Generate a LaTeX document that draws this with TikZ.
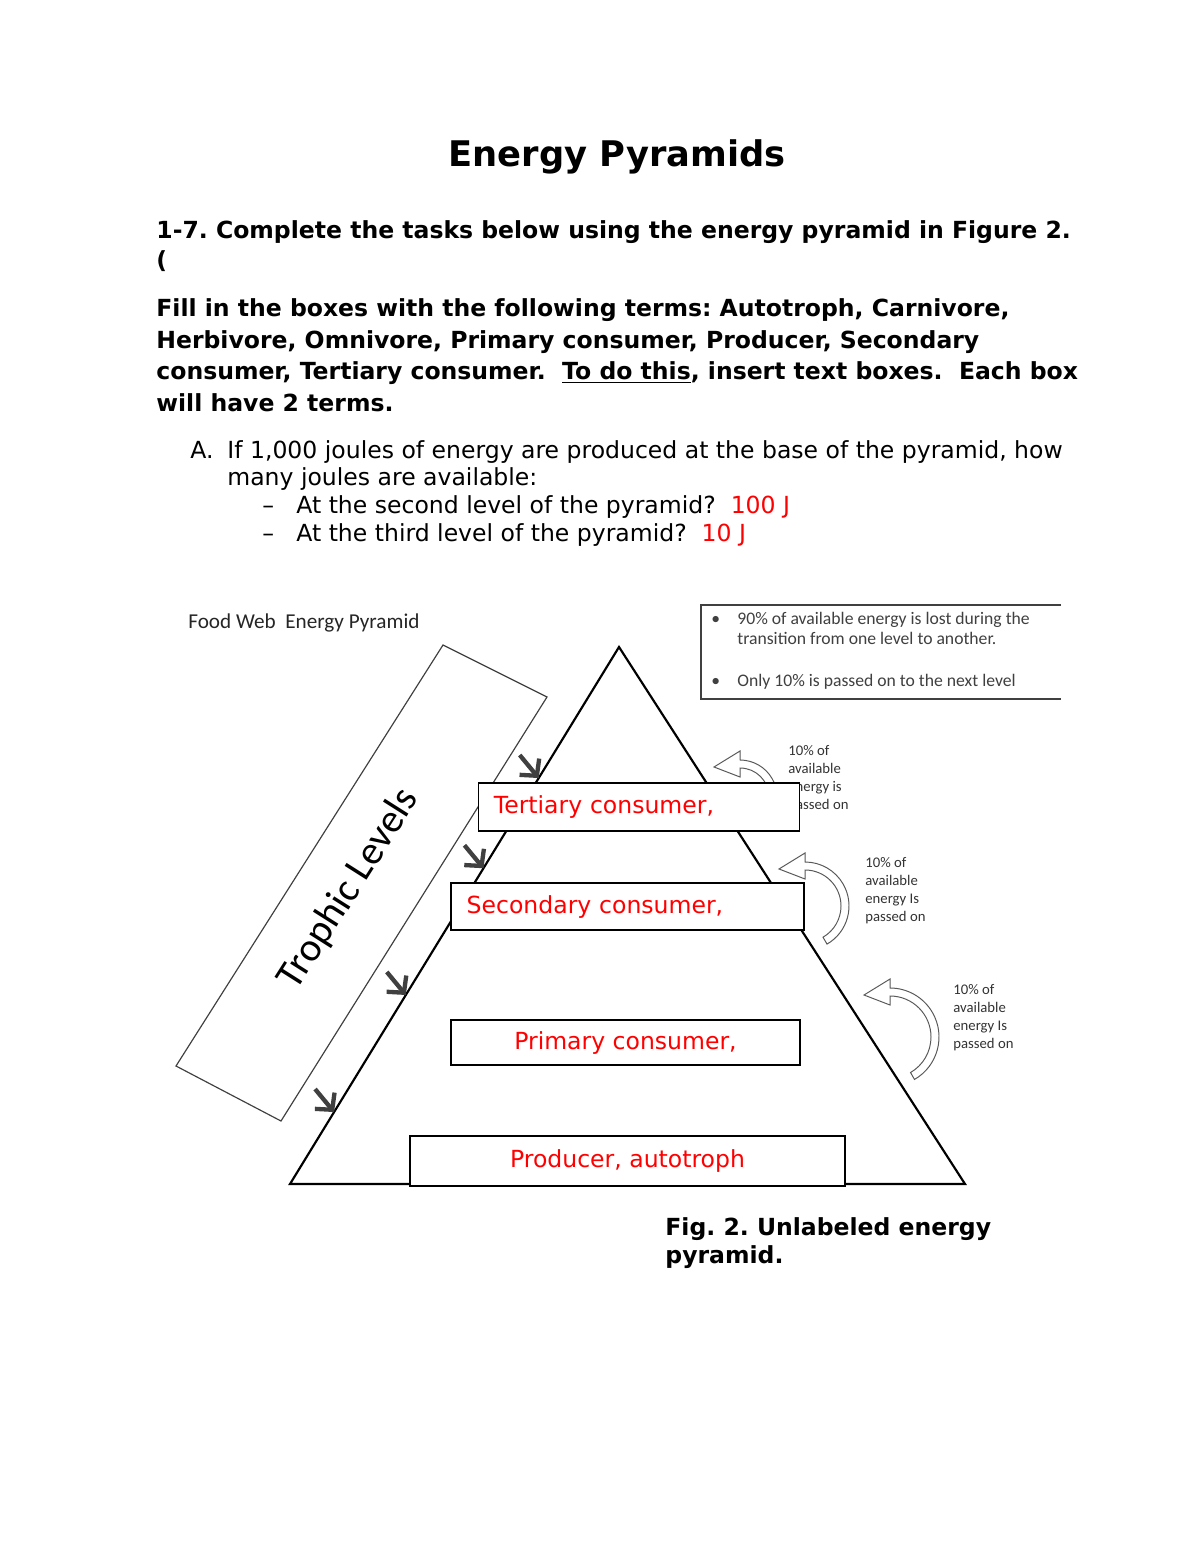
\documentclass[tikz,border=0pt]{standalone}
\usepackage{fontspec}
\setmainfont{DejaVu Sans}
\newfontfamily\calfont{Carlito}
\usetikzlibrary{arrows.meta, calc}
\frenchspacing

% hollow curved arrow: centre x, centre y, radius
\newcommand{\passarrow}[3]{%
  \begin{scope}[shift={(#1,#2)}]
    \draw[passarr] (60:{#3+4}) arc[start angle=60, end angle=-90, radius={#3+4}]
      -- ++(0,-9) -- (-26,{-#3+3}) -- (0,{-#3+13}) -- (0,{-#3+4})
      arc[start angle=-90, end angle=60, radius={#3-4}] -- cycle;
  \end{scope}}

\begin{document}
\begin{tikzpicture}[
    x=0.51pt, y=-0.51pt,
    txt/.style={anchor=base west, inner sep=0pt, font=\fontsize{12}{14}\selectfont},
    bold/.style={txt, font=\fontsize{12}{14}\selectfont\bfseries},
    note/.style={anchor=base west, inner sep=0pt, text=black!75, font=\calfont\fontsize{9}{11}\selectfont},
    small/.style={anchor=north west, inner sep=0pt, align=left, text=black!80, font=\calfont\fontsize{7.5}{9.2}\selectfont},
    lvl/.style={draw, fill=white, line width=0.7pt, inner sep=0pt, text=red, font=\fontsize{12}{14}\selectfont},
    lvlleft/.style={lvl, align=left, text width=#1},
    tri/.style={draw, line width=1.1pt, line join=miter},
    tip/.style={-{Straight Barb[length=6pt, width=13pt, line width=2.2pt]}, line width=2.2pt, draw=black!75},
    passarr/.style={draw=black!65, fill=white, line width=0.5pt},
  ]
  \fill[white] (0,0) rectangle (1200,1553);

  % heading and questions
  \node[anchor=base, inner sep=0pt, font=\fontsize{18}{22}\selectfont\bfseries] (title) at (617,167) {Energy Pyramids};
  \node[bold] (q1) at (156,238) {1-7. Complete the tasks below using the energy pyramid in Figure 2.};
  \node[bold] (q1b) at (156,268) {(};
  \node[bold] (f1) at (156,316) {Fill in the boxes with the following terms: Autotroph, Carnivore,};
  \node[bold] (f2) at (156,348) {Herbivore, Omnivore, Primary consumer, Producer, Secondary};
  \node[bold] (f3) at (156,379) {consumer, Tertiary consumer.~ \underline{To do this}, insert text boxes.~ Each box};
  \node[bold] (f4) at (156,411) {will have 2 terms.};
  \node[txt] (qa) at (190,458) {A.};
  \node[txt] (qa1) at (227,458) {If 1,000 joules of energy are produced at the base of the pyramid, how};
  \node[txt] (qa2) at (227,485) {many joules are available:};
  \node[txt] (d1) at (262,513) {--};
  \node[txt] (sec1) at (296,513) {At the second level of the pyramid?~ \textcolor{red}{100 J}};
  \node[txt] (d2) at (262,541) {--};
  \node[txt] (thr1) at (296,541) {At the third level of the pyramid?~ \textcolor{red}{10 J}};

  % figure
  \node[anchor=base west, inner sep=0pt, text=black!85, font=\calfont\fontsize{10.8}{12}\selectfont] (fw) at (188,628) {Food Web~ Energy Pyramid};

  \draw[black!75, line width=0.6pt] (1061,605) -- (701,605) -- (701,699) -- (1061,699);
  \node[note] (b1) at (711,624) {\textbullet};
  \node[note] (n1) at (737,624) {90\% of available energy is lost during the};
  \node[note] (n2) at (737,644) {transition from one level to another.};
  \node[note] (b2) at (711,686) {\textbullet};
  \node[note] (n3) at (737,686) {Only 10\% is passed on to the next level};

  \draw[black!75, line width=0.6pt] (443,645) -- (547,697) -- (281,1121) -- (176,1066) -- cycle;
  \node[inner sep=0pt, rotate=57.6, font=\calfont\fontsize{20.5}{24}\selectfont] (troph) at (349,889) {Trophic Levels};

  \coordinate (apex) at (619,647);
  \coordinate (bl) at (290,1184);
  \coordinate (br) at (965,1184);
  \draw[tri] (apex) -- (br) -- (bl) -- cycle;

  \foreach \t in {0.244, 0.412, 0.648, 0.866} {
    \coordinate (e) at ($(apex)!\t!(bl)$);
    \draw[tip] ($(e)+(-19,-23)$) -- (e);
  }

  \node[small] (lab1) at (788,745) {10\% of\\available\\energy is\\passed on};
  \node[small] (lab2) at (865,857) {10\% of\\available\\energy Is\\passed on};
  \node[small] (lab3) at (953,984) {10\% of\\available\\energy Is\\passed on};
  \passarrow{740}{797}{33}
  \passarrow{805}{906}{40}
  \passarrow{890}{1037}{45}

  % level boxes
  \node[lvlleft=148pt, minimum width=164pt, minimum height=24.5pt] (tert) at (639,807) {Tertiary consumer,};
  \node[lvlleft=164pt, minimum width=180pt, minimum height=24pt] (secd) at (627.5,906.5) {Secondary consumer,};
  \node[lvl, minimum width=178pt, minimum height=23pt] (prim) at (625.5,1042.5) {Primary consumer,};
  \node[lvl, minimum width=222pt, minimum height=25.5pt] (prod) at (627.5,1161) {Producer, autotroph};

  \node[bold] (fig1) at (665,1235) {Fig. 2. Unlabeled energy};
  \node[bold] (fig2) at (665,1263) {pyramid.};
\end{tikzpicture}
\end{document}
